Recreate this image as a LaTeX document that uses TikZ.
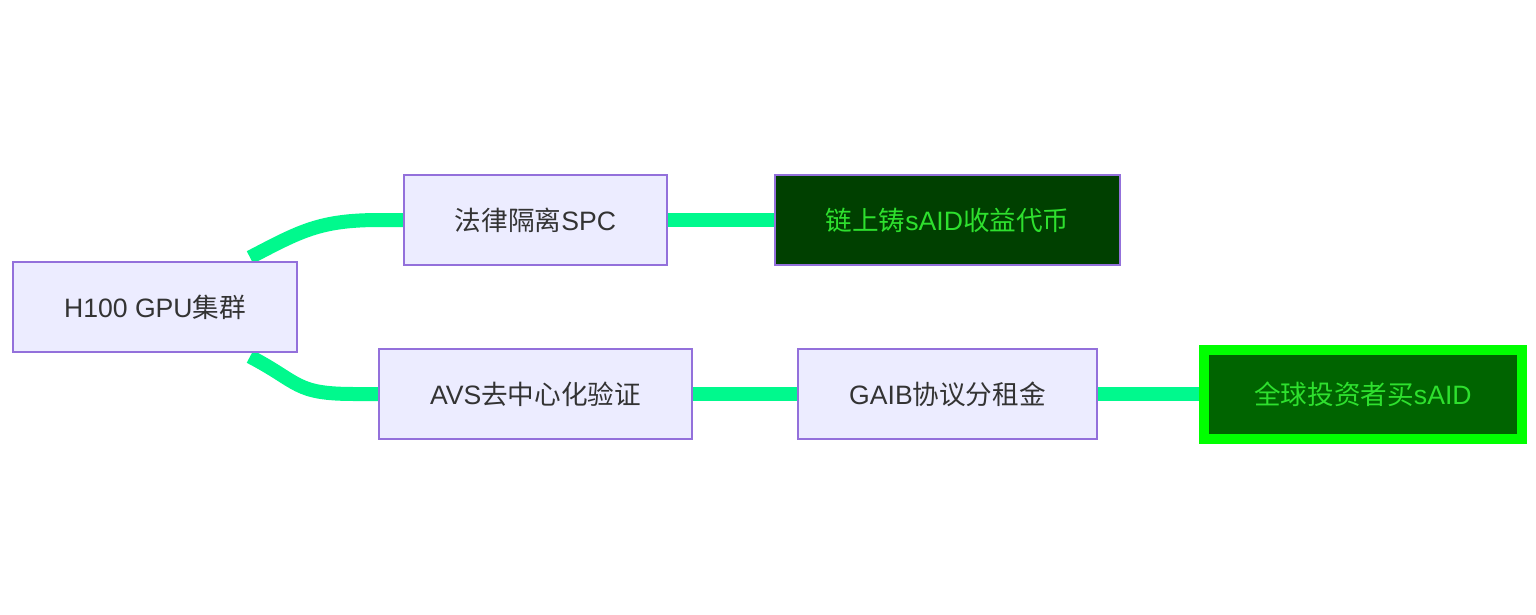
\documentclass[tikz,border=0pt]{standalone}
\usepackage{fontspec}
\setmainfont{Liberation Sans}
\newfontfamily\cjk{Noto Sans CJK SC}
\usetikzlibrary{backgrounds}
\definecolor{nodefill}{HTML}{ECECFF}
\definecolor{nodeborder}{HTML}{9370DB}
\definecolor{txt}{HTML}{333333}
\definecolor{edgecol}{HTML}{00F98D}
\definecolor{darkA}{HTML}{004000}
\definecolor{darkB}{HTML}{006400}
\definecolor{lime}{HTML}{00FF00}
\definecolor{gtxt}{HTML}{2EE02E}
\tikzset{
  base/.style={rectangle, inner sep=0pt, font=\fontsize{26.6}{32}\selectfont},
  plain/.style={base, fill=nodefill, draw=nodeborder, line width=1.2pt, text=txt},
  mint/.style={base, fill=darkA, draw=nodeborder, line width=1.2pt, text=gtxt},
  buyer/.style={base, fill=darkB, draw=lime, line width=10pt, text=gtxt},
  link/.style={draw=edgecol, line width=14pt}
}
\begin{document}
\begin{tikzpicture}[x=1pt,y=-1pt]
\useasboundingbox (0,0) rectangle (1536,614);
\node[plain, minimum width=284pt, minimum height=90pt] (h) at (155,307) {H100 GPU{\cjk 集群}};
\node[plain, minimum width=263pt, minimum height=90pt] (spc) at (535.5,220) {{\cjk 法律隔离}SPC};
\node[mint, minimum width=345pt, minimum height=90pt] (tok) at (947.5,220) {{\cjk 链上铸}sAID{\cjk 收益代币}};
\node[plain, minimum width=313pt, minimum height=90pt] (avs) at (535.5,394) {AVS{\cjk 去中心化验证}};
\node[plain, minimum width=299pt, minimum height=90pt] (gaib) at (947.5,394) {GAIB{\cjk 协议分租金}};
\node[buyer, minimum width=318pt, minimum height=89pt] (buy) at (1363,394) {{\cjk 全球投资者买}sAID};
\begin{scope}[on background layer]
\draw[link] ([xshift=95pt,yshift=4pt]h.north) .. controls +(50,-26) and +(-60,0) .. ([xshift=-24pt]spc.west) -- (spc.west);
\draw[link] ([xshift=95pt,yshift=-4pt]h.south) .. controls +(50,26) and +(-60,0) .. ([xshift=-24pt]avs.west) -- (avs.west);
\draw[link] (spc.east) -- (tok.west);
\draw[link] (avs.east) -- (gaib.west);
\draw[link] (gaib.east) -- (buy.west);
\end{scope}
\end{tikzpicture}
\end{document}
